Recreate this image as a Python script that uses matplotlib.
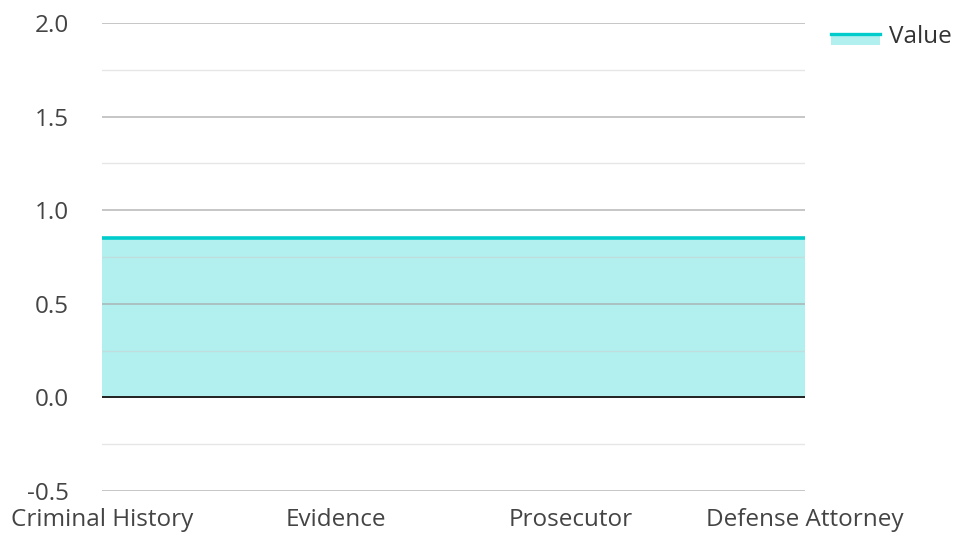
import matplotlib
matplotlib.use('Agg')
import matplotlib.pyplot as plt
from matplotlib.lines import Line2D
from matplotlib.patches import Rectangle
from matplotlib.legend_handler import HandlerBase
import numpy as np

plt.rcParams['font.family'] = ['Open Sans', 'DejaVu Sans']

# data
categories = ['Criminal History', 'Evidence', 'Prosecutor', 'Defense Attorney']
values = [0.85, 0.85, 0.85, 0.85]

line_color = '#00cccc'
fill_color = '#b2efef'


class AreaHandler(HandlerBase):
    # line along the top edge of a filled box, like the area swatch
    def create_artists(self, legend, orig_handle, xdescent, ydescent, width, height, fontsize, trans):
        top = -ydescent + height * 0.55
        rect = Rectangle((-xdescent, top - height * 0.65), width, height * 0.65,
                         facecolor=fill_color, lw=0, transform=trans)
        ln = Line2D([-xdescent, -xdescent + width], [top, top],
                    color=line_color, lw=2.4, transform=trans)
        return [rect, ln]


fig = plt.figure(figsize=(9.55, 5.34), dpi=100)
ax = fig.add_axes([102 / 955, 1 - 491 / 534, (805 - 102) / 955, (491 - 23) / 534])

x = np.arange(len(categories))
ax.fill_between(x, 0, values, color=fill_color, lw=0, zorder=1)
ax.plot(x, values, color=line_color, lw=2.6, zorder=3)

ax.set_xlim(0, len(categories) - 1)
ax.set_ylim(-0.5, 2.0)
ax.set_yticks(np.arange(-0.5, 2.01, 0.5))
ax.set_yticks(np.arange(-0.25, 2.0, 0.5), minor=True)
ax.set_yticklabels([f'{v:.1f}' for v in np.arange(-0.5, 2.01, 0.5)])
ax.set_xticks(x)
ax.set_xticklabels(categories)

ax.grid(axis='y', which='major', color='#a8a8a8', alpha=0.7, lw=1.3, zorder=2)
ax.grid(axis='y', which='minor', color='#cfcfcf', alpha=0.5, lw=1.0, zorder=2)
ax.set_axisbelow(False)
ax.axhline(0, color='#222222', lw=1.4, zorder=4)

for s in ax.spines.values():
    s.set_visible(False)
ax.tick_params(axis='both', which='both', length=0, labelsize=17.5, labelcolor='#444444')
ax.tick_params(axis='y', pad=24)
ax.tick_params(axis='x', pad=12)

leg = fig.legend([object()], ['Value'], loc='upper left', bbox_to_anchor=(831 / 955, 1 - 25 / 534),
                 frameon=False, fontsize=17.5, borderpad=0, borderaxespad=0,
                 handlelength=2.0, handleheight=0.7, handletextpad=0.4,
                 handler_map={object: AreaHandler()})
for t in leg.get_texts():
    t.set_color('#333333')

fig.savefig('out.png', dpi=100)
